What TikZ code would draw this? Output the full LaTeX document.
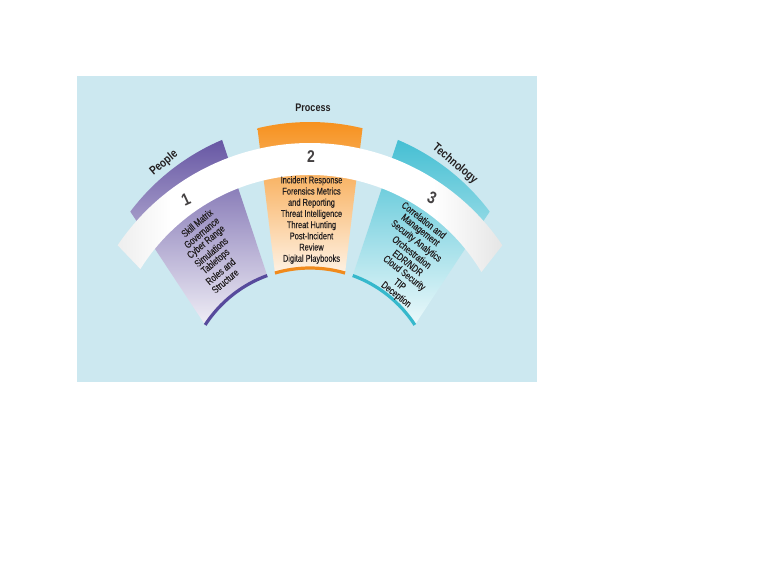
\documentclass[tikz,border=0pt]{standalone}
\usepackage{fontspec}
\setmainfont[FakeStretch=0.82]{Liberation Sans}
\newfontfamily\listfont[FakeStretch=0.76,FakeBold=0.25]{Liberation Sans}
\usepackage{xcolor}
\usetikzlibrary{calc}

\definecolor{bgblue}{HTML}{CCE8F0}
\definecolor{pplpurple}{HTML}{6757A4}
\definecolor{pplline}{HTML}{574A9C}
\definecolor{procorange}{HTML}{F6901C}
\definecolor{procline}{HTML}{F08A1C}
\definecolor{techteal}{HTML}{45BFD3}
\definecolor{techline}{HTML}{36B8CC}
\definecolor{txtdark}{HTML}{231F20}

\pgfdeclarehorizontalshading{bandshade}{100bp}{color(0bp)=(gray!80); color(6bp)=(gray!50); color(32bp)=(white); color(66bp)=(white); color(92bp)=(gray!58); color(100bp)=(gray!85)}

\begin{document}
\begin{tikzpicture}[x=1pt,y=-1pt]
    \tikzstyle{H}=[font=\bfseries\fontsize{12}{12}\selectfont,text=txtdark,inner sep=0pt]
    \tikzstyle{N}=[font=\bfseries\fontsize{17}{17}\selectfont,text=txtdark!85,inner sep=0pt]
    \tikzstyle{T}=[font=\listfont\fontsize{10.2}{10}\selectfont,text=txtdark,inner sep=0pt]
    \tikzstyle{R}=[line width=3.2pt]

    \useasboundingbox (0,0) rectangle (768,576);
    \fill [bgblue] (77,76) rectangle (537,382);

    \coordinate (top) at (310,347);
    \coordinate (bot) at (310,393);
    \coordinate (band) at (310,375);

    % People
    \path [top color=pplpurple, middle color=pplpurple!90!white, bottom color=pplpurple!10!white]
        ($(top)+(-143:225)$) arc [start angle=-143, end angle=-113, radius=225]
        -- ($(bot)+(-110:125)$) arc [start angle=-110, end angle=-147, radius=125] -- cycle;
    \draw [R, pplline] ($(bot)+(-147:125)$) arc [start angle=-147, end angle=-110, radius=125];

    % Process
    \path [top color=procorange, middle color=procorange!88!white, bottom color=procorange!12!white]
        ($(top)+(-103.5:225)$) arc [start angle=-103.5, end angle=-76.5, radius=225]
        -- ($(bot)+(-73.7:125)$) arc [start angle=-73.7, end angle=-106.3, radius=125] -- cycle;
    \draw [R, procline] ($(bot)+(-106.3:125)$) arc [start angle=-106.3, end angle=-73.7, radius=125];

    % Technology
    \path [top color=techteal, middle color=techteal!88!white, bottom color=techteal!10!white]
        ($(top)+(-67:225)$) arc [start angle=-67, end angle=-37, radius=225]
        -- ($(bot)+(-33:125)$) arc [start angle=-33, end angle=-70, radius=125] -- cycle;
    \draw [R, techline] ($(bot)+(-70:125)$) arc [start angle=-70, end angle=-33, radius=125];

    % band
    \path [shading=bandshade]
        ($(band)+(-146:232)$) arc [start angle=-146, end angle=-34, radius=232]
        -- ($(band)+(-31:200)$) arc [start angle=-31, end angle=-148, radius=200] -- cycle;

    \node [H, rotate=40] (people) at (164,163) {People};
    \node [H, font=\bfseries\fontsize{11}{11}\selectfont] (process) at (313,108) {Process};
    \node [H, rotate=-40] (technology) at (455,164) {Technology};

    \node [N, rotate=25] (one) at (186,200) {1};
    \node [N] (two) at (311,157) {2};
    \node [N, rotate=-25] (three) at (432,198) {3};

    \foreach \txt [count=\i] in {Skill Matrix, Governance, Cyber Range, Simulations, Tabletops, Roles and, Structure}
        \node [T, rotate=40] (people-\i) at ({197+4.7*(\i-1)}, {223+9.7*(\i-1)}) {\txt};

    \node [T, align=center, font=\listfont\fontsize{9.8}{11.2}\selectfont] (process-list) at (311.5,220)
        {Incident Response\\Forensics Metrics\\and Reporting\\Threat Intelligence\\Threat Hunting\\Post-Incident\\Review\\Digital Playbooks};

    \foreach \txt [count=\i] in {Correlation and, Management, Security Analytics, Orchestration, EDR/NDR, Cloud Security, TIP, Deception}
        \node [T, rotate=-38] (tech-\i) at ({424-4.0*(\i-1)}, {220+10.7*(\i-1)}) {\txt};
\end{tikzpicture}
\end{document}
